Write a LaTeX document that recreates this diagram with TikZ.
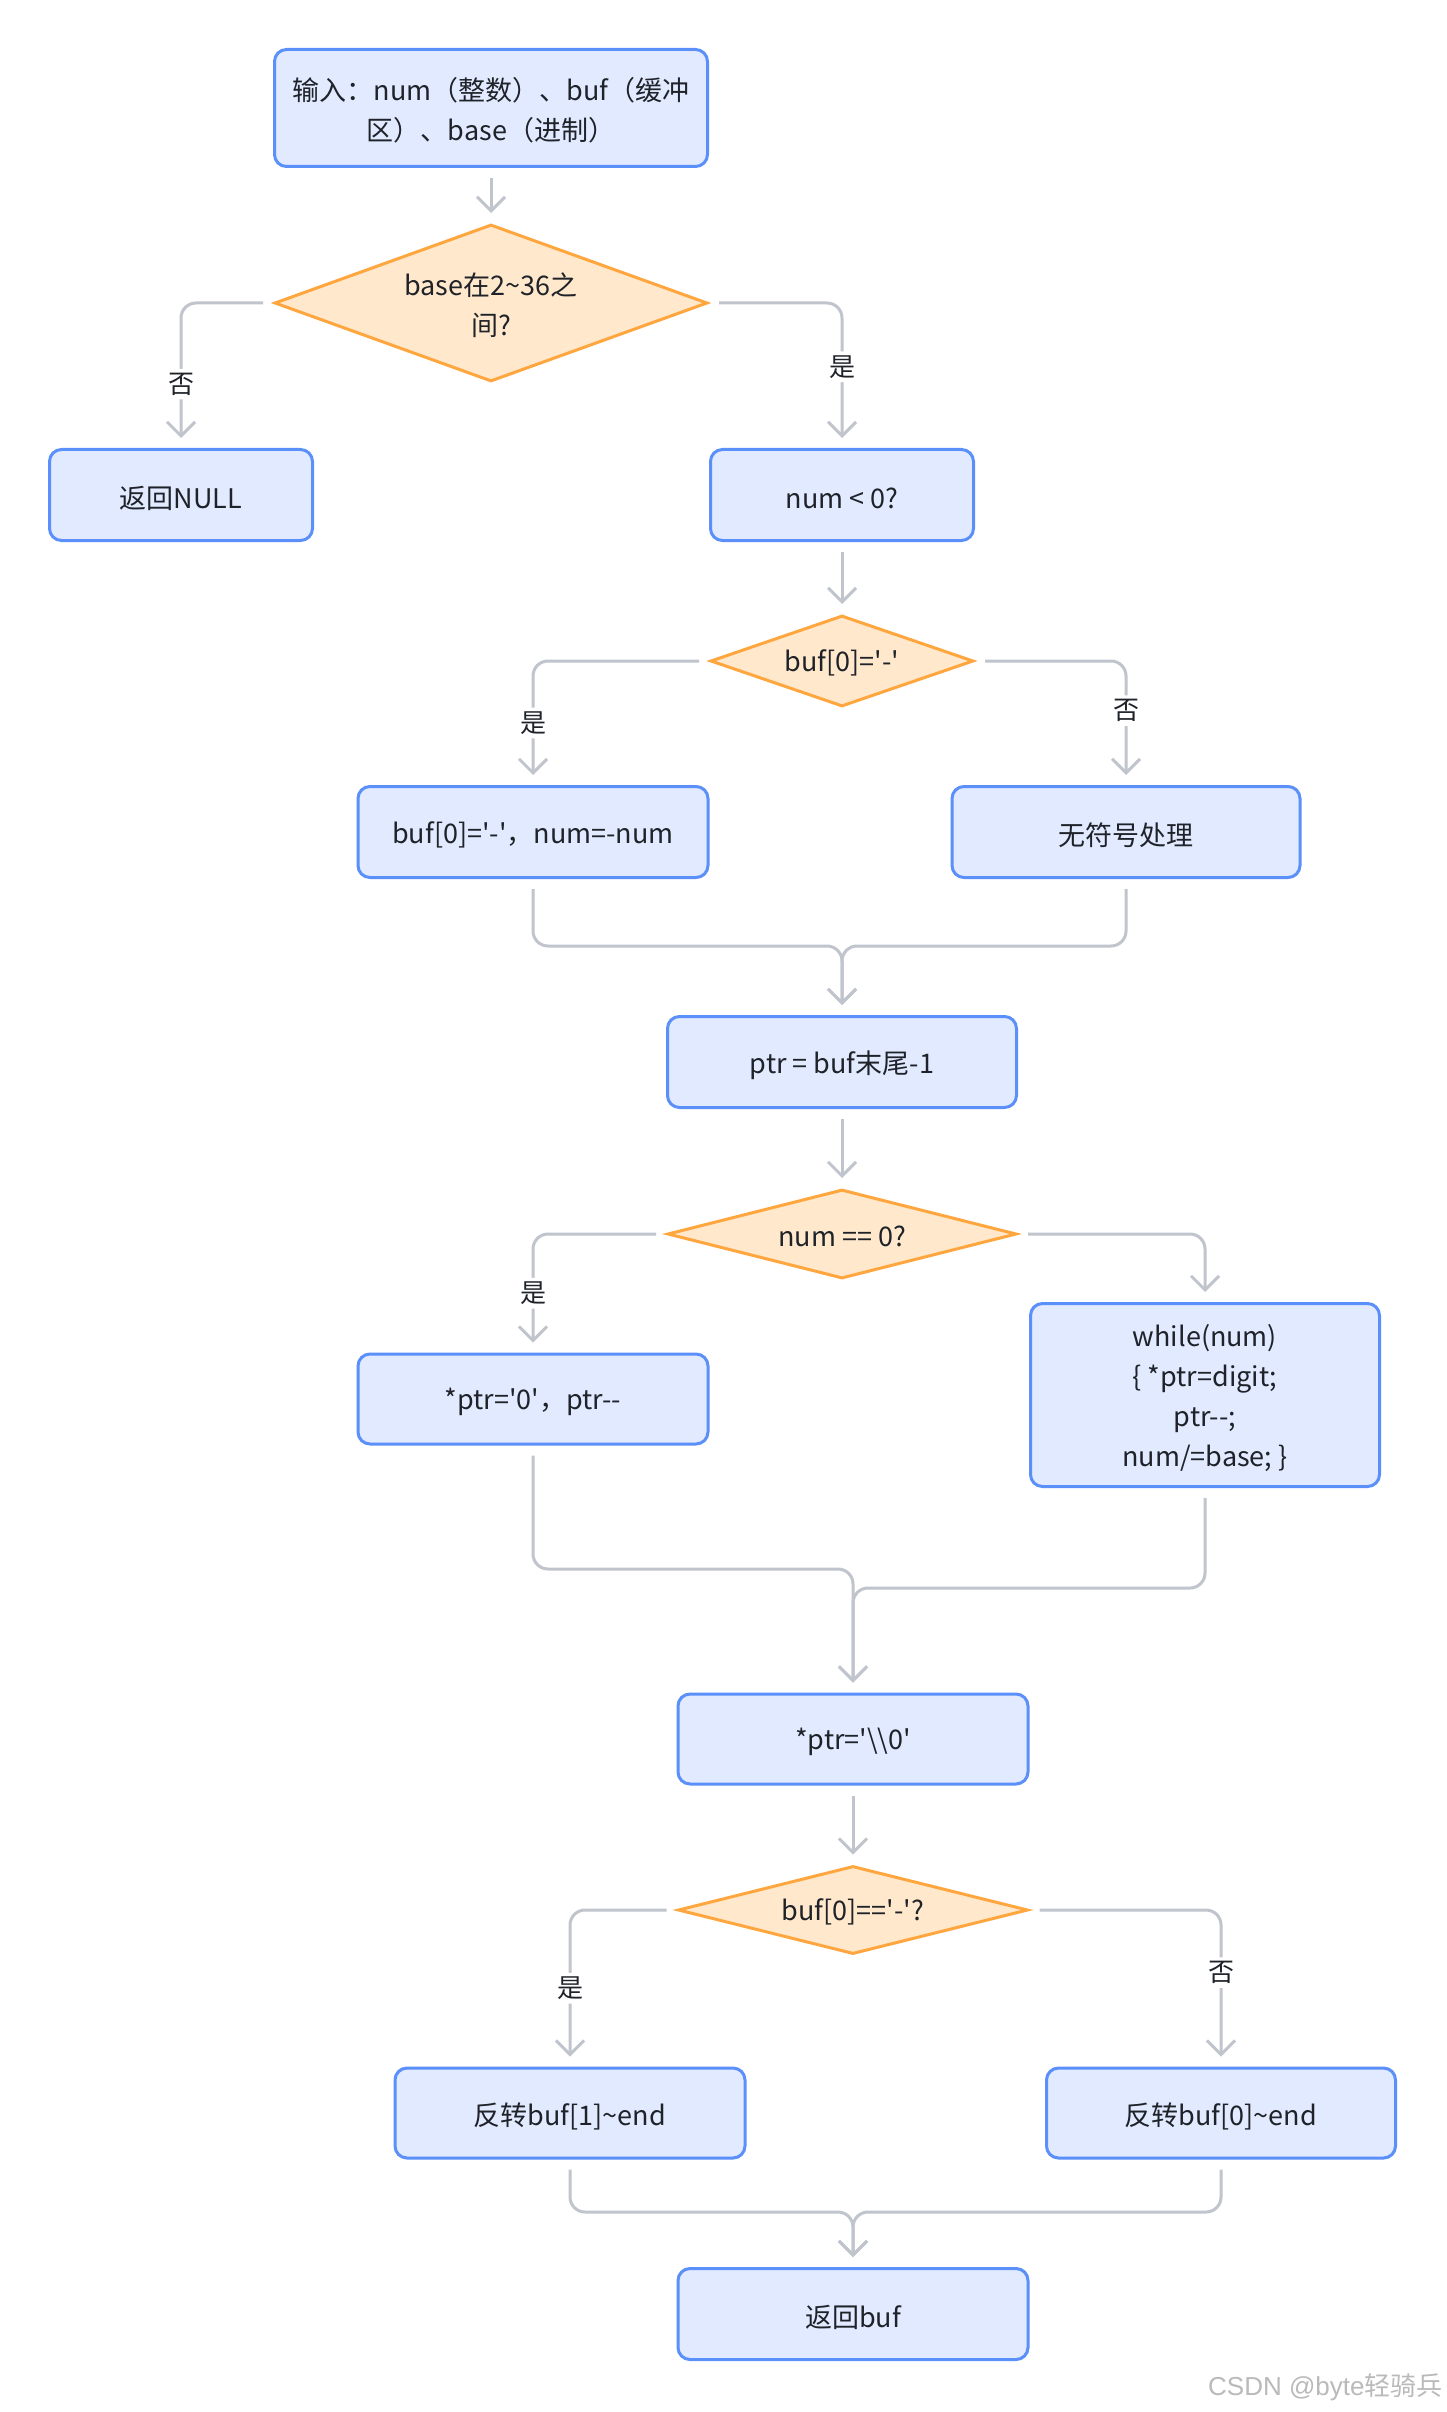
\documentclass[tikz,border=0pt]{standalone}
\usepackage{fontspec}
\newfontfamily\cjk{Noto Sans CJK SC}
\newfontfamily\wm{Liberation Sans}
\usetikzlibrary{arrows.meta,shapes.geometric}
\definecolor{bfill}{HTML}{E1EAFF}
\definecolor{bdraw}{HTML}{5B8FF9}
\definecolor{dfill}{HTML}{FFE8CC}
\definecolor{ddraw}{HTML}{FFA63F}
\definecolor{txt}{HTML}{1F2329}
\definecolor{lncol}{HTML}{C0C4CC}
\begin{document}
\begin{tikzpicture}[x=0.5pt,y=-0.5pt,
  every node/.style={font=\cjk\fontsize{13.5pt}{20pt}\selectfont, text=txt},
  box/.style={draw=bdraw, fill=bfill, line width=1.5pt, rounded corners=6pt, align=center, inner sep=0pt},
  dia/.style={diamond, draw=ddraw, fill=dfill, line width=1.5pt, align=center, inner sep=0pt},
  tx/.style={align=center, inner sep=0pt, yshift=-1.5pt},
  txd/.style={align=center, inner sep=0pt, yshift=-1pt},
  conn/.style={draw=lncol, line width=1.5pt, rounded corners=7.5pt, -{Straight Barb[length=7pt,width=14pt,line width=1.5pt]}, shorten <=5pt, shorten >=5pt},
  lbl/.style={fill=white, inner sep=2pt, font=\cjk\fontsize{13pt}{15pt}\selectfont}
]
\useasboundingbox (0,0) rectangle (1446,2412);
\fill[white] (0,0) rectangle (1446,2412);

\node[box, minimum width=216.5pt, minimum height=58.5pt, label={[txd]center:输入：num（整数）、buf（缓冲\\区）、base（进制）}] (in) at (491,108) {};
\node[dia, aspect=2.76, minimum width=216.5pt, minimum height=78.5pt, label={[txd]center:base在2\string~36之\\间?}] (d1) at (491,303) {};
\node[box, minimum width=131.5pt, minimum height=45.5pt, label={[tx]center:返回NULL}] (nul) at (181,495) {};
\node[box, minimum width=131.5pt, minimum height=45.5pt, label={[tx]center:num < 0?}] (neg0) at (842,495) {};
\node[dia, aspect=2.89, minimum width=131.5pt, minimum height=45.5pt, label={[txd]center:buf[0]='-'}] (d2) at (842,661) {};
\node[box, minimum width=175pt, minimum height=45.5pt, label={[tx]center:buf[0]='-'，num=-num}] (bneg) at (533,832) {};
\node[box, minimum width=174pt, minimum height=45.5pt, label={[tx]center:无符号处理}] (uns) at (1126,832) {};
\node[box, minimum width=174.5pt, minimum height=45.5pt, label={[tx]center:ptr = buf末尾-1}] (ptr) at (842,1062) {};
\node[dia, aspect=3.92, minimum width=174.5pt, minimum height=44.5pt, label={[txd]center:num == 0?}] (d3) at (842,1234) {};
\node[box, minimum width=175pt, minimum height=45pt, label={[tx]center:*ptr='0'，ptr--}] (p0) at (533,1399) {};
\node[box, minimum width=174.5pt, minimum height=91.5pt, label={[tx]center:while(num)\\\{ *ptr=digit;\\ptr--;\\num/=base; \}}] (wh) at (1205,1395) {};
\node[box, minimum width=175pt, minimum height=45pt, label={[tx]center:*ptr='\textbackslash\textbackslash 0'}] (pz) at (853,1739) {};
\node[dia, aspect=3.98, minimum width=175pt, minimum height=44pt, label={[txd]center:buf[0]=='-'?}] (d4) at (853,1910) {};
\node[box, minimum width=175pt, minimum height=45pt, label={[tx]center:反转buf[1]\string~end}] (r1) at (570,2113) {};
\node[box, minimum width=174.5pt, minimum height=45pt, label={[tx]center:反转buf[0]\string~end}] (r0) at (1221,2113) {};
\node[box, minimum width=175pt, minimum height=45.5pt, label={[tx]center:返回buf}] (rb) at (853,2314) {};

\draw[conn] (in.south) -- (d1.north);
\draw[conn] (d1.west) -| node[lbl,pos=0.78]{否} (nul.north);
\draw[conn] (d1.east) -| node[lbl,pos=0.72]{是} (neg0.north);
\draw[conn] (neg0.south) -- (d2.north);
\draw[conn] (d2.west) -| node[lbl,pos=0.75]{是} (bneg.north);
\draw[conn] (d2.east) -| node[lbl,pos=0.7]{否} (uns.north);
\coordinate (m1) at (842,946);
\draw[conn] (bneg.south) |- (m1) -- (ptr.north);
\draw[conn] (uns.south) |- (m1) -- (ptr.north);
\draw[conn] (ptr.south) -- (d3.north);
\draw[conn] (d3.west) -| node[lbl,pos=0.75]{是} (p0.north);
\draw[conn] (d3.east) -| (wh.north);
\coordinate (m2) at (853,1569);
\coordinate (m2b) at (853,1588);
\draw[conn] (p0.south) |- (m2) -- (pz.north);
\draw[conn] (wh.south) |- (m2b) -- (pz.north);
\draw[conn] (pz.south) -- (d4.north);
\draw[conn] (d4.west) -| node[lbl,pos=0.75]{是} (r1.north);
\draw[conn] (d4.east) -| node[lbl,pos=0.7]{否} (r0.north);
\coordinate (m3) at (853,2212);
\draw[conn] (r1.south) |- (m3) -- (rb.north);
\draw[conn] (r0.south) |- (m3) -- (rb.north);

\node[anchor=east, inner sep=0pt, text=black!27, font=\wm\fontsize{13pt}{15pt}\selectfont] (wmk) at (1443,2387) {CSDN @byte{\cjk 轻骑兵}};
\end{tikzpicture}
\end{document}
